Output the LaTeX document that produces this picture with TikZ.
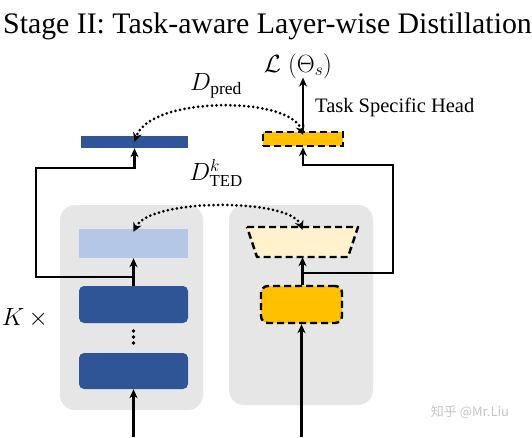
\documentclass[tikz,border=0pt]{standalone}
\usepackage{fontspec}
\setmainfont{Liberation Serif}
\newfontfamily\cjkfont{Noto Sans CJK SC}
\usetikzlibrary{arrows.meta}
\definecolor{dblue}{HTML}{2F5597}
\definecolor{lblue}{HTML}{B4C7E7}
\definecolor{gold}{HTML}{FFC000}
\definecolor{cream}{HTML}{FFF2CC}
\definecolor{panel}{HTML}{E7E6E6}
\definecolor{wm}{HTML}{C4C4C4}
\tikzset{
  conn/.style={line width=2.4pt, -{Stealth[length=9pt,width=8pt]}},
  dotarc/.style={line width=3pt, dash pattern=on 0pt off 4.6pt, line cap=round,
    {Stealth[length=9pt,width=9pt]}-{Stealth[length=9pt,width=9pt]}},
  dashbox/.style={draw=black, line width=2.4pt, dash pattern=on 7pt off 4pt},
  panelbox/.style={fill=panel, rounded corners=15pt},
  tblock/.style={fill=dblue, rounded corners=5pt, inner sep=0pt, minimum width=109pt, minimum height=37pt},
}
\begin{document}
\begin{tikzpicture}[x=1pt,y=-1pt]
\useasboundingbox (0,0) rectangle (532,437);
% panels
\fill[panelbox] (60,205) rectangle (203,410);
\fill[panelbox] (229,205) rectangle (373,405);
% title
\node[anchor=base, inner sep=0pt, font=\fontsize{29.8}{32}\selectfont] (title) at (267.5,33) {Stage II: Task-aware Layer-wise Distillation};
% labels
\node[inner sep=1pt, font=\fontsize{25}{28}\selectfont] (loss) at (298,66) {$\mathcal{L}\;(\Theta_s)$};
\node[inner sep=0pt, font=\fontsize{25}{28}\selectfont] (dpred) at (216,86) {$D_{\mathrm{pred}}$};
\node[anchor=base west, inner sep=0pt, font=\fontsize{20.5}{23}\selectfont] (tsh) at (315,112) {Task Specific Head};
\node[inner sep=0pt, font=\fontsize{24}{28}\selectfont] (dted) at (216,173) {$D^{k}_{\mathrm{TED}}$};
\node[inner sep=0pt, font=\fontsize{23}{26}\selectfont] (kx) at (25,318) {$K\,\times$};
% top bars
\node[fill=dblue, inner sep=0pt, minimum width=107pt, minimum height=12pt] (bb) at (134.5,142) {};
\node[fill=gold, dashbox, inner sep=0pt, minimum width=80pt, minimum height=14pt] (hb) at (303,139) {};
% teacher
\node[fill=lblue, inner sep=0pt, minimum width=109pt, minimum height=29pt] (lb) at (133.5,243.5) {};
\node[tblock] (t1) at (133.5,304.5) {};
\node[tblock, minimum height=36pt] (t2) at (133.5,371) {};
\foreach \yy/\nm in {331/d1,337/d2,343/d3} \fill (133.5,\yy) circle (1.9pt) coordinate (\nm);
% student
\filldraw[fill=cream, dashbox, line join=round] (247,227) -- (358,227) -- (348,257) -- (257,257) -- cycle;
\node[inner sep=0pt, minimum width=91pt, minimum height=30pt] (tz) at (302.5,242) {};
\node[fill=gold, dashbox, rounded corners=7pt, inner sep=0pt, minimum width=81pt, minimum height=37pt] (s1) at (301.5,304.5) {};
% coordinates
\coordinate (tin) at (133.5,437);
\coordinate (sin) at (301.5,437);
\coordinate (jt) at (133.5,277);
\coordinate (ct1) at (36,277);
\coordinate (ct2) at (36,168);
\coordinate (js) at (302,273);
\coordinate (cs1) at (393,273);
\coordinate (cs2) at (393,165);
% connectors
\draw[conn] (tin) -- (t2.south);
\draw[conn] (sin) -- (s1.south);
\draw[conn] (t1.north) -- (lb.south);
\draw[conn] (s1.north -| tz.south) -- (tz.south);
\draw[conn] (jt) -- (ct1) -- (ct2) -| (bb.south);
\draw[conn] (js) -- (cs1) -- (cs2) -| (hb.south);
\draw[conn] (hb.north) -- ([yshift=2pt]loss.south -| hb.north);
% dotted arcs
\draw[dotarc] ([yshift=-4pt]hb.north) .. controls (290,96) and (150,96) .. ([yshift=-6pt]bb.north);
\draw[dotarc] ([yshift=-3pt]tz.north) .. controls (290,198) and (150,198) .. ([yshift=-3pt]lb.north);
% watermark
\node[inner sep=0pt, text=wm, font=\cjkfont\fontsize{13}{15}\selectfont] (wmk) at (470,412) {知乎 @Mr.Liu};
\end{tikzpicture}
\end{document}
